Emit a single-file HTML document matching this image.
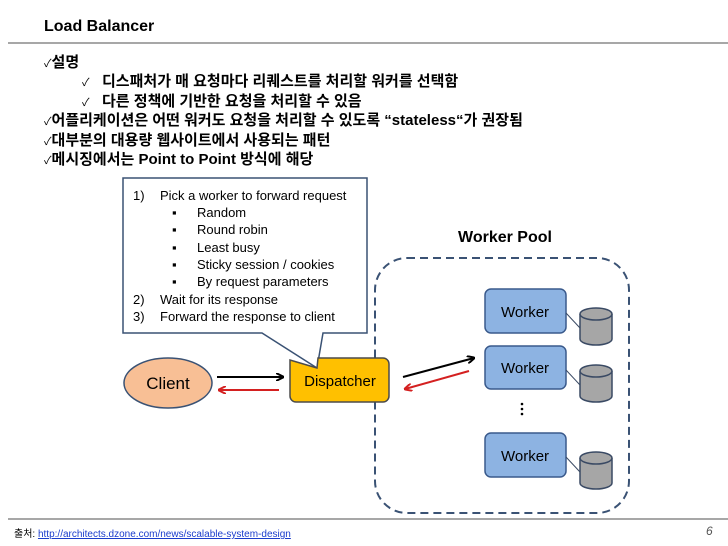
<!DOCTYPE html>
<html><head><meta charset="utf-8"><style>
body{margin:0;background:#fff;}
svg{display:block;}
.k{font-family:"Liberation Sans","Noto Sans CJK KR",sans-serif;font-weight:bold;font-size:15px;fill:#000;}
.c{font-family:"Liberation Sans","DejaVu Sans",sans-serif;font-size:13px;fill:#000;}
</style></head><body>
<svg width="728" height="546" viewBox="0 0 728 546" xmlns="http://www.w3.org/2000/svg">
<defs>
<marker id="ab" markerWidth="8" markerHeight="8" refX="7" refY="4" orient="auto" markerUnits="userSpaceOnUse"><path d="M0,0 L8,4 L0,8" fill="none" stroke="#000" stroke-width="2"/></marker>
<marker id="ar" markerWidth="8" markerHeight="8" refX="7" refY="4" orient="auto" markerUnits="userSpaceOnUse"><path d="M0,0 L8,4 L0,8" fill="none" stroke="#d42020" stroke-width="2"/></marker>
</defs>
<text x="44" y="31" font-family="Liberation Sans,sans-serif" font-weight="bold" font-size="16" fill="#000">Load Balancer</text>
<line x1="8" y1="43" x2="728" y2="43" stroke="#8a8a8a" stroke-width="1.5"/>
<text class="k" x="44" y="67"><tspan font-weight="normal" font-size="11">✓</tspan>설명</text>
<text class="k" x="82" y="86"><tspan font-weight="normal" font-size="11">✓</tspan><tspan x="102">디스패처가 매 요청마다 리퀘스트를 처리할 워커를 선택함</tspan></text>
<text class="k" x="82" y="106"><tspan font-weight="normal" font-size="11">✓</tspan><tspan x="102">다른 정책에 기반한 요청을 처리할 수 있음</tspan></text>
<text class="k" x="44" y="125"><tspan font-weight="normal" font-size="11">✓</tspan>어플리케이션은 어떤 워커도 요청을 처리할 수 있도록 “stateless“가 권장됨</text>
<text class="k" x="44" y="145"><tspan font-weight="normal" font-size="11">✓</tspan>대부분의 대용량 웹사이트에서 사용되는 패턴</text>
<text class="k" x="44" y="164"><tspan font-weight="normal" font-size="11">✓</tspan>메시징에서는 Point to Point 방식에 해당</text>

<text x="505" y="242" text-anchor="middle" font-family="Liberation Sans,sans-serif" font-weight="bold" font-size="16" fill="#000">Worker Pool</text>
<rect x="375" y="258" width="254" height="255" rx="32" fill="none" stroke="#3a5274" stroke-width="2" stroke-dasharray="8,5"/>

<path d="M123,178 H367 V333 H323 L317,368 L262,333 H123 Z" fill="#fff" stroke="#3a5274" stroke-width="1.5"/>
<g class="c">
<text x="133" y="200">1)</text><text x="160" y="200">Pick a worker to forward request</text>
<text x="172" y="217">▪</text><text x="197" y="217">Random</text>
<text x="172" y="234">▪</text><text x="197" y="234">Round robin</text>
<text x="172" y="252">▪</text><text x="197" y="252">Least busy</text>
<text x="172" y="269">▪</text><text x="197" y="269">Sticky session / cookies</text>
<text x="172" y="286">▪</text><text x="197" y="286">By request parameters</text>
<text x="133" y="304">2)</text><text x="160" y="304">Wait for its response</text>
<text x="133" y="321">3)</text><text x="160" y="321">Forward the response to client</text>
</g>

<ellipse cx="168" cy="383" rx="44" ry="25" fill="#f8bf95" stroke="#3a5274" stroke-width="1.5"/>
<text x="168" y="389" text-anchor="middle" font-family="Liberation Sans,sans-serif" font-size="17">Client</text>
<path d="M290,360 V396 a6,6 0 0 0 6,6 H383 a6,6 0 0 0 6,-6 V364 a6,6 0 0 0 -6,-6 H318 L317,368 Z" fill="#ffc000" stroke="#4b4b4b" stroke-width="1.5"/>
<text x="340" y="386" text-anchor="middle" font-family="Liberation Sans,sans-serif" font-size="15">Dispatcher</text>

<line x1="217" y1="377" x2="283" y2="377" stroke="#000" stroke-width="2" marker-end="url(#ab)"/>
<line x1="279" y1="390" x2="219" y2="390" stroke="#d42020" stroke-width="2" marker-end="url(#ar)"/>
<line x1="403" y1="377" x2="474" y2="358" stroke="#000" stroke-width="2" marker-end="url(#ab)"/>
<line x1="469" y1="371" x2="405" y2="389" stroke="#d42020" stroke-width="2" marker-end="url(#ar)"/>

<g font-family="Liberation Sans,sans-serif" font-size="15" text-anchor="middle">
<rect x="485" y="289" width="81" height="44" rx="6" fill="#8db3e2" stroke="#3a5a8c" stroke-width="1.5"/><text x="525" y="317">Worker</text>
<rect x="485" y="346" width="81" height="43" rx="6" fill="#8db3e2" stroke="#3a5a8c" stroke-width="1.5"/><text x="525" y="373">Worker</text>
<rect x="485" y="433" width="81" height="44" rx="6" fill="#8db3e2" stroke="#3a5a8c" stroke-width="1.5"/><text x="525" y="461">Worker</text>
</g>
<g fill="#000"><circle cx="522" cy="404" r="1.3"/><circle cx="522" cy="409" r="1.3"/><circle cx="522" cy="414" r="1.3"/></g>

<g stroke="#3a4a64" stroke-width="1.5" fill="#a6a6a6">
<line x1="566" y1="313" x2="580" y2="328" stroke-width="1"/>
<path d="M580,314 V339 a16,6 0 0 0 32,0 V314"/><ellipse cx="596" cy="314" rx="16" ry="6"/>
<line x1="566" y1="370" x2="580" y2="385" stroke-width="1"/>
<path d="M580,371 V396 a16,6 0 0 0 32,0 V371"/><ellipse cx="596" cy="371" rx="16" ry="6"/>
<line x1="566" y1="457" x2="580" y2="472" stroke-width="1"/>
<path d="M580,458 V483 a16,6 0 0 0 32,0 V458"/><ellipse cx="596" cy="458" rx="16" ry="6"/>
</g>

<line x1="8" y1="519" x2="728" y2="519" stroke="#8a8a8a" stroke-width="1.5"/>
<text x="14" y="537" font-family="Liberation Sans,'Noto Sans CJK KR',sans-serif" font-size="10" fill="#000">출처: <tspan fill="#1a3ccc" text-decoration="underline">http://architects.dzone.com/news/scalable-system-design</tspan></text>
<text x="706" y="535" font-family="Liberation Sans,sans-serif" font-style="italic" font-size="12" fill="#555">6</text>
</svg>
</body></html>
